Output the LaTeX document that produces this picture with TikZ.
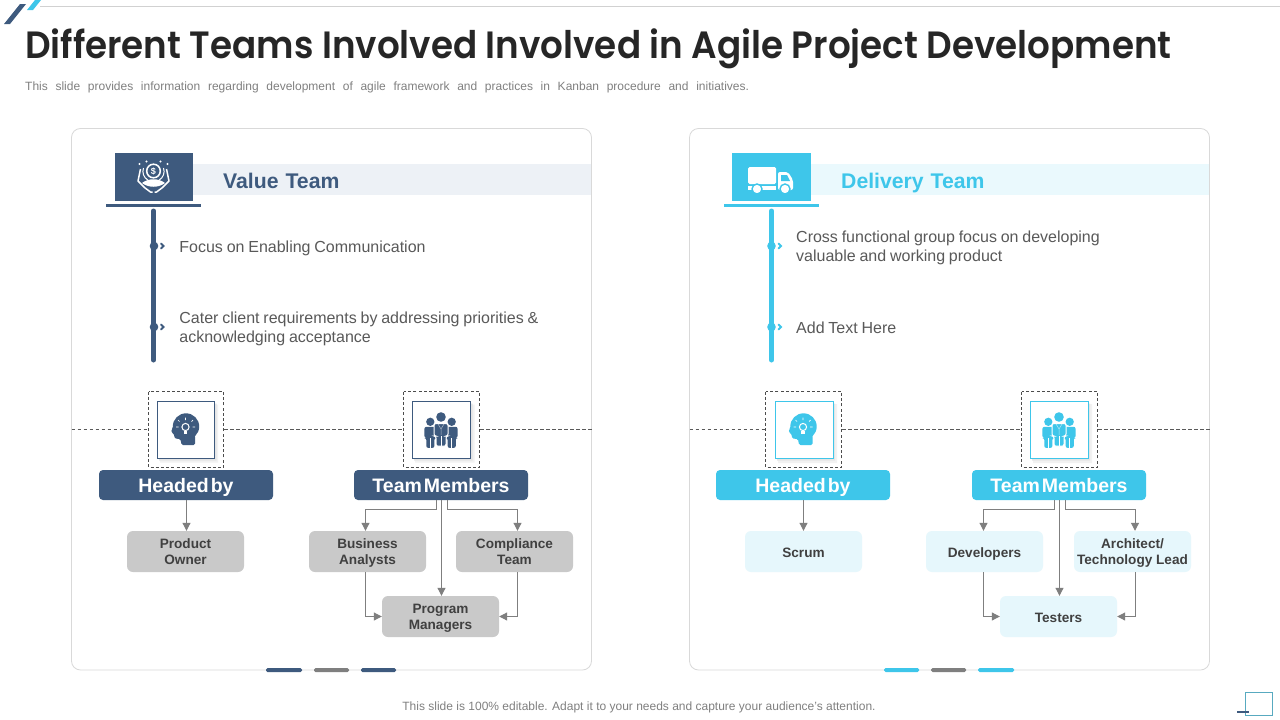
\documentclass[tikz,border=0pt]{standalone}
\usepackage{fontspec}
\setmainfont{Liberation Sans}
\newfontfamily\titlefam{Poppins SemiBold}[FakeStretch=0.94]
\definecolor{navy}{HTML}{3E5A7E}
\definecolor{sky}{HTML}{3EC6EA}
\definecolor{navyband}{HTML}{EDF1F6}
\definecolor{skyband}{HTML}{EAF9FD}
\definecolor{graybox}{HTML}{C9C9C9}
\definecolor{skybox}{HTML}{E6F7FC}
\definecolor{conn}{HTML}{7F7F7F}
\definecolor{bodytxt}{HTML}{595959}
\definecolor{childtxt}{HTML}{404040}
\usetikzlibrary{arrows.meta}
\newcommand\bulletfont{\fontsize{16}{19}\selectfont\spaceskip=3.8pt\relax}
\newcommand\teamfont{\fontsize{21.2}{26}\selectfont\bfseries\spaceskip=7pt\relax}
\newcommand\barfont{\fontsize{19.5}{24}\selectfont\bfseries\spaceskip=2pt\relax}
\newcommand\headicon[3]{%
\begin{scope}[shift={(#1,#2)}]
\fill[#3] (0.5,-3.5) circle (13.2);
\fill[#3,rounded corners=1.5] (-12.5,-4) -- (-14.5,2.5) -- (-11.5,3.5) -- (-11,8.5) -- (-5,9) -- (-4,15) -- (9.5,15) -- (9.5,5) -- cycle;
\draw[white,line width=1] (0,-3) circle (3.6);
\fill[white] (-1.8,.5) rectangle (1.8,4);
\draw[white,line width=.7] (0,-12.5) -- (0,-10) (-7.5,-10) -- (-6,-8.5) (7.5,-10) -- (6,-8.5) (-9.5,-3) -- (-7,-3) (9.5,-3) -- (7,-3);
\end{scope}}
\newcommand\oneperson[4]{% x y scale colour
\begin{scope}[shift={(#1,#2)},scale=#3]
\fill[#4] (0,-13) circle (4.6);
\fill[#4,rounded corners=2] (-6.5,-7.5) -- (6.5,-7.5) -- (6.5,5) -- (4.5,5) -- (4.5,16) -- (-4.5,16) -- (-4.5,5) -- (-6.5,5) -- cycle;
\draw[white,line width=.5] (0,5) -- (0,16.2);
\end{scope}}
\newcommand\teamicon[3]{%
\begin{scope}[shift={(#1,#2)}]
\oneperson{-10.7}{3.5}{.9}{#3}
\oneperson{10.7}{3.5}{.9}{#3}
\draw[white,line width=1,fill=#3,rounded corners=2] (-7,-6.5) -- (7,-6.5) -- (7,6) -- (5,6) -- (5,16.2) -- (-5,16.2) -- (-5,6) -- (-7,6) -- cycle;
\fill[#3] (0,-13) circle (4.8);
\draw[white,line width=.5] (0,6) -- (0,16.2);
\draw[white,opacity=.6,line width=.5] (-3,-6) -- (0,-1) -- (3,-6) (0,-1) -- (0,5);
\end{scope}}
\tikzset{
 panelbox/.style={draw=black!15,line width=.8,rounded corners=9,fill=white},
 dashbox/.style={draw=black!70,dash pattern=on 3pt off 2.2pt,line width=.7},
 dashline/.style={draw=black!65,dash pattern=on 3.5pt off 2.5pt,line width=.7},
 iconbox/.style={draw=#1,line width=1,fill=white},
 headbar/.style={fill=#1,rounded corners=4,minimum width=174,minimum height=30,inner sep=0,text=white,font=\barfont,text height=16,text depth=2},
 childbox/.style={fill=#1,rounded corners=6,minimum width=117,minimum height=41,inner sep=0,align=center,text=childtxt,font=\fontsize{13.6}{16}\selectfont\bfseries},
 singleline/.style={text height=12,text depth=0},
 arrowline/.style={draw=conn,line width=1,-{Triangle[length=8pt,width=8pt]}},
 bulletline/.style={anchor=west,inner sep=0,align=left,text=bodytxt,font=\bulletfont},
 teamlabel/.style={anchor=base west,inner sep=0,text=#1,font=\teamfont},
 chev/.style={draw=#1,line width=1.8,line cap=round},
 pager/.style={fill=#1,rounded corners=1.5}
}
\begin{document}
\begin{tikzpicture}[x=1pt,y=-1pt]
\useasboundingbox (0,0) rectangle (1280,720);
\fill[white] (0,0) rectangle (1280,720);
% top decoration
\draw[black!18,line width=.8] (40,6.5) -- (1280,6.5);
\fill[navy] (4,24) -- (10,24) -- (26,4) -- (20,4) -- cycle;
\fill[sky] (27,10) -- (33,10) -- (41,0) -- (35,0) -- cycle;
% title
\node[anchor=base west,inner sep=0,text=black!85] (title) at (25,58.5) {\titlefam\fontsize{38}{44}\selectfont Different Teams Involved Involved in Agile Project Development};
\node[anchor=west,inner sep=0,text=black!50] (subtitle) at (25,87.5) {\fontsize{12}{14}\selectfont\spaceskip=7.7pt\relax This slide provides information regarding development of agile framework and practices in Kanban procedure and initiatives.};
% panels
\draw[panelbox] (71.5,128.5) rectangle (591.5,670);
\draw[panelbox] (689.5,128.5) rectangle (1209.5,670);
% ---- left header
\fill[navyband] (193,164) rectangle (591,195);
\fill[navy] (115,153) rectangle (193,201);
\fill[navy] (106,203.5) rectangle (201,206.5);
\begin{scope}[shift={(153.5,172)}]
\draw[white,line width=1.5] (0,-1) circle (6.8);
\node[text=white,inner sep=0,font=\fontsize{9}{9}\selectfont\bfseries] (dollar) at (0,-1) {\$};
\draw[white,line width=1] (-10,-4) arc (200:120:10) (10,-4) arc (-20:60:10);
\fill[white] (-14,-8) circle (1.1) (-7,-10.5) circle (1.1) (7,-10.5) circle (1.1) (14,-8) circle (1.1);
\draw[white,line width=1.5,line join=round] (-13,-3) -- (-15.5,9) -- (-9,15.5) -- (-3,20) -- (-1,20);
\draw[white,line width=1.5,line join=round] (13,-3) -- (15.5,9) -- (9,15.5) -- (3,20) -- (1,20);
\fill[white] (-11.5,11) .. controls (-5,6) and (5,6) .. (11.5,11) .. controls (5,16) and (-5,16) .. cycle;
\end{scope}
\node[teamlabel=navy] (vt) at (223,188.5) {Value Team};
\draw[navy,line width=5,line cap=round] (153.5,211) -- (153.5,360);
\fill[navy] (154,246) circle (4.3) (154,327) circle (4.3);
\draw[chev=navy] (161,243.5) -- (163.5,246) -- (161,248.5);
\draw[chev=navy] (161,324.5) -- (163.5,327) -- (161,329.5);
\node[bulletline] (vb1) at (179.2,248) {Focus on Enabling Communication};
\node[bulletline] (vb2) at (179.2,329) {Cater client requirements by addressing priorities \&\\acknowledging acceptance};
% ---- right header
\fill[skyband] (811,164) rectangle (1209,195);
\fill[sky] (732,153) rectangle (811,201);
\fill[sky] (724,203.5) rectangle (819,206.5);
\fill[white,rounded corners=1.5] (748,167) rectangle (776,184);
\fill[white] (748,185.5) rectangle (776,190);
\fill[white,rounded corners=2] (778,172) -- (788,172) -- (793,180) -- (793,190) -- (778,190) -- cycle;
\fill[sky] (781,175) -- (787,175) -- (790,181) -- (781,181) -- cycle;
\draw[sky,fill=white,line width=1.4] (757,189) circle (5) (785,189) circle (5);
\node[teamlabel=sky] (dt) at (841,188.5) {Delivery Team};
\draw[sky,line width=5,line cap=round] (771.5,211) -- (771.5,360);
\fill[sky] (771.5,246) circle (4.3) (771.5,327) circle (4.3);
\draw[chev=sky] (778.5,243.5) -- (781,246) -- (778.5,248.5);
\draw[chev=sky] (778.5,324.5) -- (781,327) -- (778.5,329.5);
\node[bulletline] (db1) at (796,248) {Cross functional group focus on developing\\valuable and working product};
\node[bulletline] (db2) at (796,327.5) {Add Text Here};
% ---- dashed rules
\draw[dashline] (71.5,429.5) -- (148,429.5) (224,429.5) -- (403,429.5) (480,429.5) -- (591.5,429.5);
\draw[dashline] (689.5,429.5) -- (765,429.5) (842,429.5) -- (1021,429.5) (1098,429.5) -- (1209.5,429.5);
% ---- icon frames
\draw[dashbox] (148.5,391.5) rectangle (223.5,467.5);
\draw[dashbox] (403.5,391.5) rectangle (479.5,467.5);
\draw[dashbox] (765.5,391.5) rectangle (841.5,467.5);
\draw[dashbox] (1021.5,391.5) rectangle (1097.5,467.5);
\fill[black!5] (160,404.5) rectangle (218,462.5) (415,404.5) rectangle (474.5,462.5) (778,404) rectangle (837,463) (1033,404) rectangle (1092,463);
\fill[black!10] (159,403.5) rectangle (216.5,460.5) (414,403.5) rectangle (472.5,460.5) (777,403.5) rectangle (835,460.5) (1032,403.5) rectangle (1090,460.5);
\draw[iconbox=navy] (157,401.5) rectangle (214.5,458.5);
\draw[iconbox=navy] (412,401.5) rectangle (470.5,458.5);
\draw[iconbox=sky] (775,401.5) rectangle (833,458.5);
\draw[iconbox=sky] (1030,401.5) rectangle (1088,458.5);
\headicon{185.5}{430}{navy}
\teamicon{441}{430}{navy}
\headicon{803}{430}{sky}
\teamicon{1059}{430}{sky}
% ---- left chart
\node[headbar=navy] (h1) at (186,485) {Headed by};
\node[headbar=navy] (t1) at (441,485) {Team Members};
\node[childbox=graybox] (po) at (185.5,551.5) {Product\\Owner};
\node[childbox=graybox] (ba) at (367.5,551.5) {Business\\\smash{Analysts}};
\node[childbox=graybox] (ct) at (514.5,551.5) {Compliance\\Team};
\node[childbox=graybox] (pm) at (440.5,616.5) {Program\\\smash{Managers}};
\draw[arrowline] ([xshift=.5pt]h1.south) -- ([xshift=1pt]po.north);
\draw[arrowline] ([xshift=-5pt]t1.south) |- ++(-35,9.5) -| ([xshift=-2pt]ba.north);
\draw[arrowline] ([xshift=.5pt]t1.south) -- ([xshift=1pt]pm.north);
\draw[arrowline] ([xshift=6pt]t1.south) |- ++(35,9.5) -| ([xshift=3pt]ct.north);
\draw[arrowline] ([xshift=-2pt]ba.south) |- (pm.west);
\draw[arrowline] ([xshift=3pt]ct.south) |- (pm.east);
% ---- right chart
\node[headbar=sky] (h2) at (803,485) {Headed by};
\node[headbar=sky] (t2) at (1059,485) {Team Members};
\node[childbox=skybox,singleline] (sc) at (803.5,551.5) {Scrum};
\node[childbox=skybox,singleline] (de) at (984.5,551.5) {Developers};
\node[childbox=skybox] (ar) at (1132.5,551.5) {Architect/\\\smash{Technology Lead}};
\node[childbox=skybox,singleline] (te) at (1058.5,616.5) {Testers};
\draw[arrowline] ([xshift=.5pt]h2.south) -- (sc.north);
\draw[arrowline] ([xshift=-5pt]t2.south) |- ++(-35,9.5) -| ([xshift=-1pt]de.north);
\draw[arrowline] ([xshift=.5pt]t2.south) -- ([xshift=1pt]te.north);
\draw[arrowline] ([xshift=6pt]t2.south) |- ++(35,9.5) -| ([xshift=2.5pt]ar.north);
\draw[arrowline] ([xshift=-1pt]de.south) |- (te.west);
\draw[arrowline] ([xshift=2.5pt]ar.south) |- (te.east);
% ---- pagers
\fill[pager=navy] (266,668) rectangle (302,672);
\fill[pager=conn] (314,668) rectangle (349,672);
\fill[pager=navy] (361,668) rectangle (396,672);
\fill[pager=sky] (884,668) rectangle (919,672);
\fill[pager=conn] (931,668) rectangle (966,672);
\fill[pager=sky] (978,668) rectangle (1014,672);
% footer
\node[inner sep=0,text=black!50] (foot) at (639,707.5) {\fontsize{12}{14}\selectfont This slide is 100\% editable. Adapt it to your needs and capture your audience's attention.};
\draw[sky!75!black!80,line width=.9] (1245.5,692.5) rectangle (1272.5,715.5);
\fill[navy] (1237,710.5) rectangle (1249,712.5);
\end{tikzpicture}
\end{document}
